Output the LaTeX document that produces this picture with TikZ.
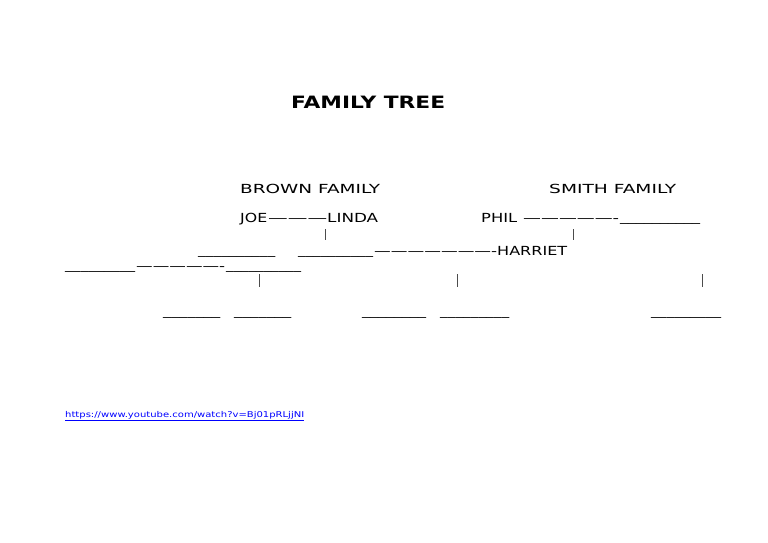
\documentclass[tikz,border=0pt]{standalone}
\usepackage{fontspec}
\setmainfont{DejaVu Sans}
\usepackage{graphicx}
\newcommand{\W}[2]{\resizebox*{#1pt}{\totalheight}{#2}}
\begin{document}
\begin{tikzpicture}[x=1pt,y=-1pt,
  t/.style={anchor=base west,inner sep=0pt,font=\fontsize{12.5}{14}\selectfont},
  bar/.style={draw=black!70,line width=0.5pt}]
\useasboundingbox (0,0) rectangle (768,543);
\node[t,font=\bfseries\fontsize{17}{20}\selectfont] (title) at (291,108) {\W{154}{FAMILY TREE}};
\node[t] (brown) at (240,193) {\W{140}{BROWN FAMILY}};
\node[t] (smith) at (549,193) {\W{127}{SMITH FAMILY}};
% line 1
\node[t] (joe) at (240,222) {\W{27}{JOE}};
\node[t] (d1) at (268,222) {\W{59}{---------}};
\node[t] (linda) at (327,222) {\W{51}{LINDA}};
\node[t] (phil) at (481,222) {\W{36}{PHIL}};
\node[t] (d2) at (523,222) {\W{96}{----------------}};
\node[t] (u1) at (620,221) {\W{80}{\_\_\_\_\_\_\_\_\_\_}};
\draw[bar] (325,229) -- (325,240);
\draw[bar] (573,229) -- (573,240);
% line 2
\node[t] (u2) at (198,254) {\W{77}{\_\_\_\_\_\_\_\_\_\_}};
\node[t] (u3) at (298,254) {\W{75}{\_\_\_\_\_\_\_\_\_\_}};
\node[t] (d3) at (374,255) {\W{123}{----------------------}};
\node[t] (harriet) at (497,255) {\W{70}{HARRIET}};
% line 3
\node[t] (u4) at (65,269) {\W{70}{\_\_\_\_\_\_\_\_\_}};
\node[t] (d4) at (136,270) {\W{89}{----------------}};
\node[t] (u5) at (226,269) {\W{75}{\_\_\_\_\_\_\_\_\_\_}};
\draw[bar] (259,274) -- (259,287);
\draw[bar] (457,274) -- (457,287);
\draw[bar] (702,274) -- (702,287);
% line 4
\node[t] (u6) at (163,315) {\W{57}{\_\_\_\_\_\_\_}};
\node[t] (u7) at (234,315) {\W{57}{\_\_\_\_\_\_\_}};
\node[t] (u8) at (362,315) {\W{64}{\_\_\_\_\_\_\_\_}};
\node[t] (u9) at (440,315) {\W{69}{\_\_\_\_\_\_\_\_\_}};
\node[t] (u10) at (651,315) {\W{70}{\_\_\_\_\_\_\_\_\_}};
\node[t,font=\fontsize{8}{10}\selectfont,text=blue] (url) at (65,417) {\W{239}{\underline{https://www.youtube.com/watch?v=Bj01pRLjjNI}}};
\end{tikzpicture}
\end{document}
